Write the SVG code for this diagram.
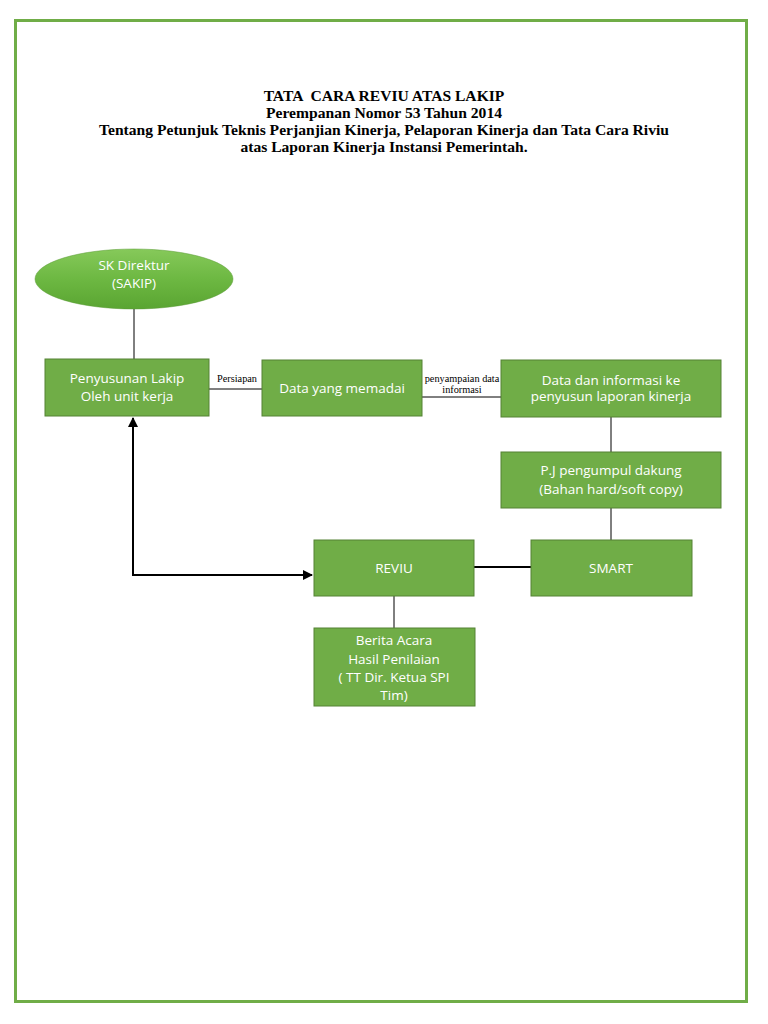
<svg xmlns="http://www.w3.org/2000/svg" width="768" height="1024" viewBox="0 0 768 1024">
<defs>
<style>
.box{fill:#70ad47;stroke:#548235;stroke-width:1}
.t{font-family:"Open Sans","Noto Sans",sans-serif;font-size:13.5px;fill:#ffffff;text-anchor:middle}
.h{font-family:"Liberation Serif","Times New Roman",serif;font-size:15.6px;font-weight:bold;fill:#000;text-anchor:middle}
.lbl{font-family:"Liberation Serif","Times New Roman",serif;font-size:10.3px;fill:#000;text-anchor:middle}
.ln{stroke:#000;stroke-width:1;fill:none}
</style>
<linearGradient id="eg" x1="0" y1="0" x2="0" y2="1">
<stop offset="0" stop-color="#86c95a"/>
<stop offset="0.5" stop-color="#6db842"/>
<stop offset="1" stop-color="#5aa532"/>
</linearGradient>
<marker id="ah" viewBox="0 0 10 10" refX="9" refY="5" markerWidth="5" markerHeight="5" orient="auto-start-reverse">
<path d="M0,0 L10,5 L0,10 z" fill="#000"/>
</marker>
</defs>
<rect width="768" height="1024" fill="#fff"/>
<rect x="15.5" y="20.5" width="731" height="981" fill="none" stroke="#70ad47" stroke-width="3"/>
<g id="title">
<text class="h" x="384" y="101" xml:space="preserve">TATA  CARA REVIU ATAS LAKIP</text>
<text class="h" x="384" y="118">Perempanan Nomor 53 Tahun 2014</text>
<text class="h" x="384" y="135">Tentang Petunjuk Teknis Perjanjian Kinerja, Pelaporan Kinerja dan Tata Cara Riviu</text>
<text class="h" x="384" y="152">atas Laporan Kinerja Instansi Pemerintah.</text>
</g>
<g id="connectors">
<line class="ln" x1="134" y1="309" x2="134" y2="359"/>
<line class="ln" x1="209" y1="389" x2="262" y2="389"/>
<text class="lbl" x="237" y="382">Persiapan</text>
<line class="ln" x1="422" y1="397" x2="501" y2="397"/>
<text class="lbl" x="462" y="382">penyampaian data</text>
<text class="lbl" x="462" y="393">informasi</text>
<line class="ln" x1="611" y1="417" x2="611" y2="452"/>
<line class="ln" x1="611" y1="508" x2="611" y2="540"/>
<line x1="474" y1="567" x2="531" y2="567" stroke="#000" stroke-width="2"/>
<line class="ln" x1="394" y1="596" x2="394" y2="628"/>
<path d="M133,418 L133,575 L312,575" fill="none" stroke="#000" stroke-width="2" marker-start="url(#ah)" marker-end="url(#ah)"/>
</g>
<g id="sk">
<ellipse cx="134" cy="279" rx="99" ry="30" fill="url(#eg)" stroke="#5b9a36" stroke-width="0.5"/>
<text class="t" x="134" y="270">SK Direktur</text>
<text class="t" x="134" y="288">(SAKIP)</text>
</g>
<g id="penyusunan">
<rect class="box" x="45" y="359" width="164" height="57"/>
<text class="t" x="127" y="383">Penyusunan Lakip</text>
<text class="t" x="127" y="401">Oleh unit kerja</text>
</g>
<g id="data">
<rect class="box" x="262" y="360" width="160" height="56"/>
<text class="t" x="342" y="393">Data yang memadai</text>
</g>
<g id="datainfo">
<rect class="box" x="501" y="360" width="220" height="57"/>
<text class="t" x="611" y="385">Data dan informasi ke</text>
<text class="t" x="611" y="401">penyusun laporan kinerja</text>
</g>
<g id="pj">
<rect class="box" x="501" y="452" width="220" height="56"/>
<text class="t" x="611" y="475">P.J pengumpul dakung</text>
<text class="t" x="611" y="494">(Bahan hard/soft copy)</text>
</g>
<g id="smart">
<rect class="box" x="531" y="540" width="161" height="56"/>
<text class="t" x="611" y="573">SMART</text>
</g>
<g id="reviu">
<rect class="box" x="314" y="540" width="160" height="56"/>
<text class="t" x="394" y="573">REVIU</text>
</g>
<g id="berita">
<rect class="box" x="314" y="628" width="161" height="78"/>
<text class="t" x="394" y="645">Berita Acara</text>
<text class="t" x="394" y="664">Hasil Penilaian</text>
<text class="t" x="394" y="682">( TT Dir. Ketua SPI</text>
<text class="t" x="394" y="700">Tim)</text>
</g>
</svg>
